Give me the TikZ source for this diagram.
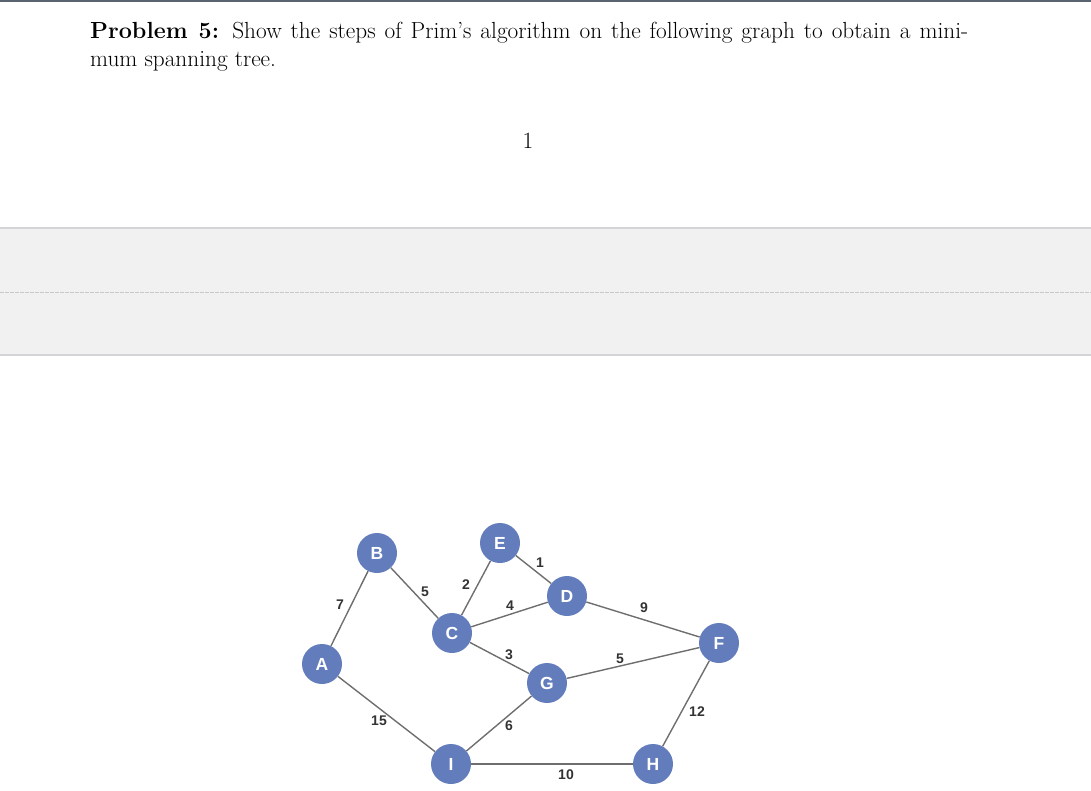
\documentclass[tikz,border=0pt]{standalone}
\usepackage{fontspec}
\newfontfamily\graphfont{Liberation Sans}
\definecolor{nodeblue}{RGB}{98,124,188}
\definecolor{edgegray}{RGB}{110,110,110}
\definecolor{labelgray}{RGB}{51,51,51}
\definecolor{topbar}{RGB}{90,100,112}
\definecolor{bandfill}{RGB}{241,241,241}
\definecolor{bandline}{RGB}{212,212,216}
\definecolor{dashgray}{RGB}{200,200,200}
\tikzset{
  vertex/.style={circle, fill=nodeblue, draw=none, minimum size=40pt, inner sep=0pt,
    text=white, font=\graphfont\bfseries\fontsize{17.5}{17.5}\selectfont},
  edge/.style={draw=edgegray, line width=1.4pt},
  wlabel/.style={text=labelgray, font=\graphfont\bfseries\fontsize{14}{14}\selectfont, inner sep=0pt},
  bodytext/.style={font=\fontsize{23.3}{28}\selectfont, inner sep=0pt, anchor=base west}
}
\begin{document}
\begin{tikzpicture}[x=1pt,y=-1pt]
\useasboundingbox (0,0) rectangle (1091,790);
% top bar
\fill[topbar] (0,0) rectangle (1091,2);
% title
\node[bodytext] (t1) at (90,38) {\makebox[878pt][s]{\textbf{Problem 5:} Show the steps of Prim's algorithm on the following graph to obtain a mini-}};
\node[bodytext] (t2) at (90,66) {mum spanning tree.};
\node[font=\fontsize{23.3}{28}\selectfont, inner sep=0pt, anchor=base] (pg) at (528,148) {1};
% gray band
\fill[bandfill] (0,228) rectangle (1091,355);
\draw[bandline, line width=2pt] (0,228) -- (1091,228);
\draw[bandline, line width=2pt] (0,355) -- (1091,355);
\draw[dashgray, line width=1.5pt, dash pattern=on 3.5pt off 1.5pt] (0,292.5) -- (1091,292.5);
% vertices
\node[vertex] (A) at (322,664) {A};
\node[vertex] (B) at (377,553) {B};
\node[vertex] (C) at (452,633) {C};
\node[vertex] (E) at (500,543) {E};
\node[vertex] (D) at (567,596) {D};
\node[vertex] (F) at (719,643) {F};
\node[vertex] (G) at (547,683) {G};
\node[vertex] (H) at (653,764) {H};
\node[vertex] (I) at (451,764) {I};
% edges
\draw[edge] (A) -- (B);
\draw[edge] (B) -- (C);
\draw[edge] (C) -- (E);
\draw[edge] (E) -- (D);
\draw[edge] (C) -- (D);
\draw[edge] (C) -- (G);
\draw[edge] (D) -- (F);
\draw[edge] (G) -- (F);
\draw[edge] (A) -- (I);
\draw[edge] (I) -- (G);
\draw[edge] (I) -- (H);
\draw[edge] (H) -- (F);
% weights
\node[wlabel] (wAB) at (340,605) {7};
\node[wlabel] (wBC) at (425,592) {5};
\node[wlabel] (wCE) at (466,585) {2};
\node[wlabel] (wAI) at (379,721) {15};
\node[wlabel] (wED) at (540,563) {1};
\node[wlabel] (wCD) at (510,606) {4};
\node[wlabel] (wDF) at (644,608) {9};
\node[wlabel] (wCG) at (509,655) {3};
\node[wlabel] (wGF) at (620,659) {5};
\node[wlabel] (wIG) at (509,726) {6};
\node[wlabel] (wHF) at (697,712) {12};
\node[wlabel] (wIH) at (566,775) {10};
\end{tikzpicture}
\end{document}
